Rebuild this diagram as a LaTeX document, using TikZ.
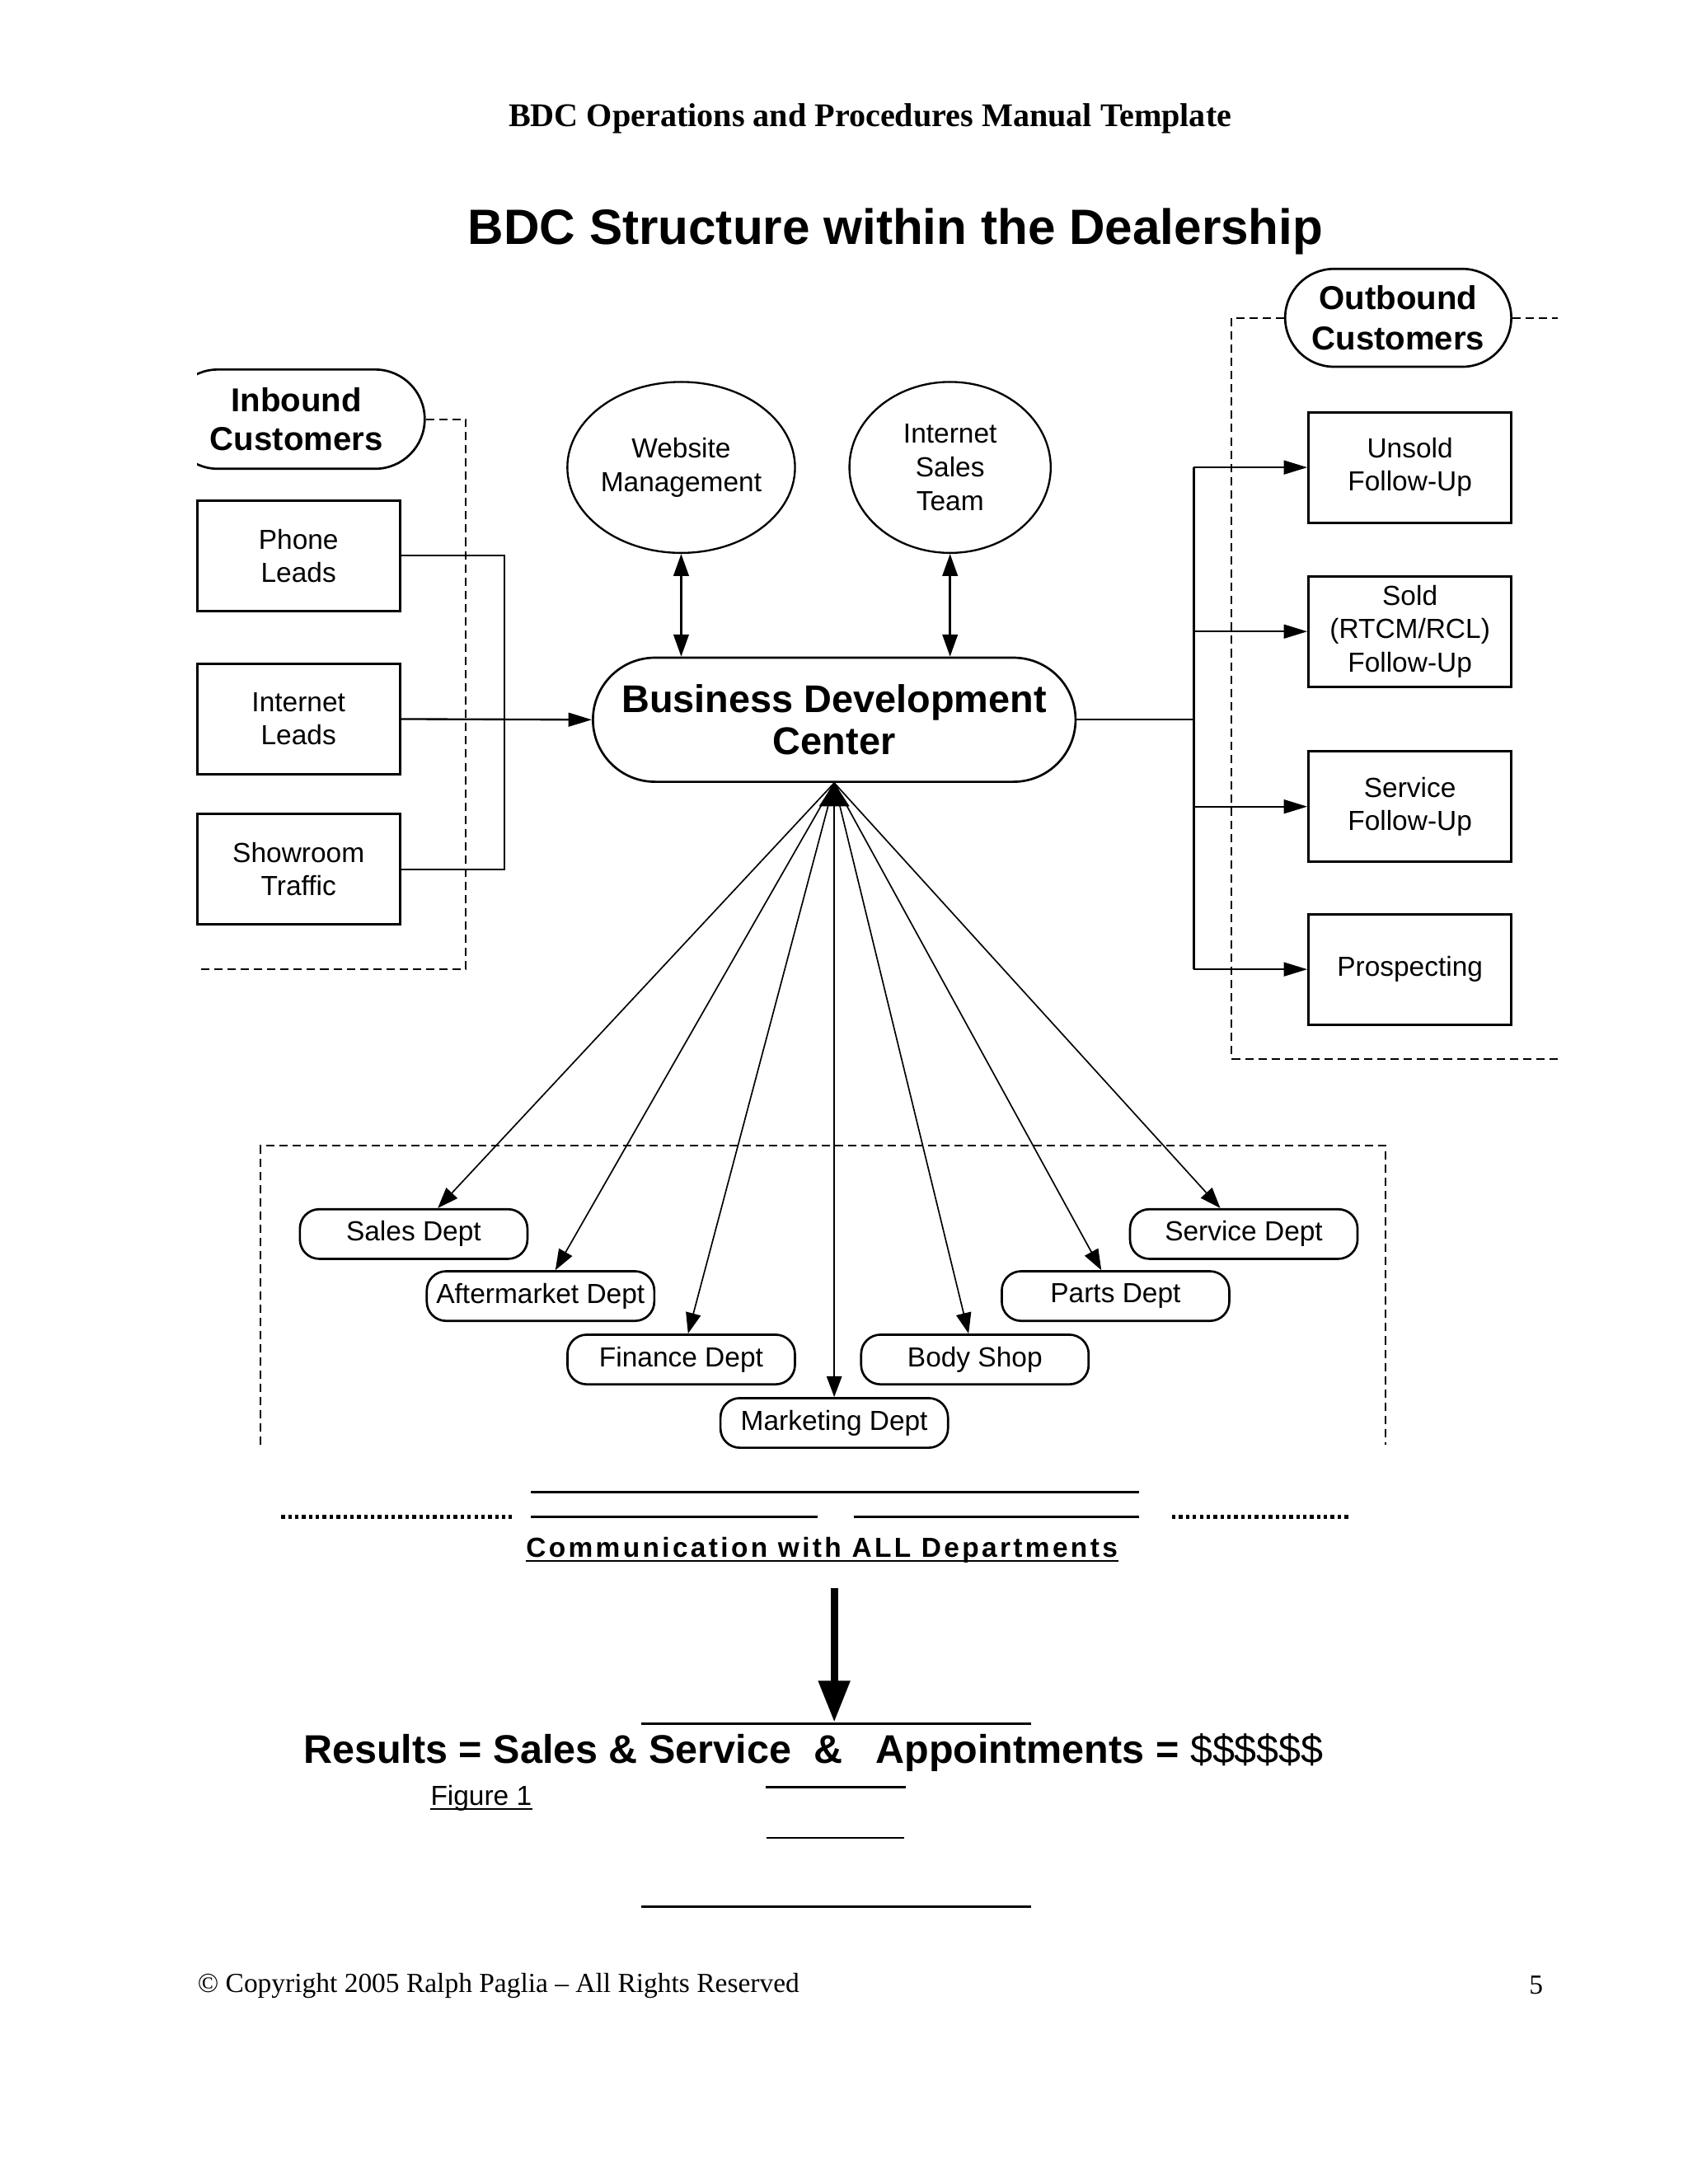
\documentclass[tikz,border=0pt]{standalone}
\usepackage{fontspec}
\setmainfont{Liberation Serif}
\setsansfont{Liberation Sans}
\usetikzlibrary{
    shapes.geometric,
    shapes.misc,
    arrows.meta,
    positioning,
    calc
}

\begin{document}
\begin{tikzpicture}[
        x=0.5pt, y=-0.5pt,
        box/.style={rectangle, draw, line width=0.9pt, minimum width=73.5pt, minimum height=40pt, align=center, font=\sffamily\fontsize{10}{12}\selectfont},
        bubble/.style={ellipse, draw, line width=0.7pt, minimum width=73pt, minimum height=62pt, inner sep=0pt, align=center, font=\sffamily\fontsize{10}{12.3}\selectfont},
        term/.style={rounded rectangle, draw, line width=0.8pt, inner sep=0pt, align=center, font=\sffamily\bfseries\fontsize{12}{14.2}\selectfont},
        dept/.style={rectangle, rounded corners=7pt, draw, line width=0.8pt, minimum width=82.5pt, minimum height=18pt, inner sep=0pt, font=\sffamily\fontsize{10}{12}\selectfont},
        line/.style={line width=0.7pt},
        arrow/.style={line width=0.7pt, -{Triangle[length=8.5pt, width=5pt]}},
        dblarrow/.style={line width=0.8pt, {Triangle[length=8pt, width=5.5pt]}-{Triangle[length=8pt, width=5.5pt]}},
        deptarrow/.style={line width=0.5pt, -{Triangle[length=7.5pt, width=5.5pt]}},
        frame/.style={line width=0.6pt, dash pattern=on 3pt off 1.8pt},
        rule/.style={line width=1pt},
        uline/.style={line width=0.6pt}
    ]
        \useasboundingbox (0,0) rectangle (1224,1584);

        % Headings
        \node[font=\rmfamily\bfseries\fontsize{12}{14}\selectfont] (header) at (631,86) {BDC Operations and Procedures Manual Template};
        \node[font=\sffamily\bfseries\fontsize{18}{20}\selectfont] (title) at (649.5,168) {BDC Structure within the Dealership};

        % Inbound side
        \begin{scope}
            \clip (143,250) rectangle (330,360);
            \node[term, minimum width=93pt, minimum height=36pt] (inbound) at (215,304) {Inbound\\Customers};
        \end{scope}
        \node[box] (phone) at (216.5,403) {Phone\\Leads};
        \node[box] (internet) at (216.5,521.5) {Internet\\Leads};
        \node[box] (showroom) at (216.5,630.5) {Showroom\\Traffic};
        \draw[frame] (inbound.east) -| (338,703) -- (143,703);

        % Center
        \node[bubble] (web) at (494,339) {Website\\Management};
        \node[bubble] (team) at (689,339) {Internet\\Sales\\Team};
        \node[term, minimum width=175pt, minimum height=45pt, font=\sffamily\bfseries\fontsize{14}{15.5}\selectfont] (bdc) at (605,522) {Business Development\\Center};

        % Outbound side
        \node[term, minimum width=82pt, minimum height=35.5pt, font=\sffamily\bfseries\fontsize{12}{14.5}\selectfont] (outbound) at (1014,230.5) {Outbound\\Customers};
        \node[box] (unsold) at (1022.5,339) {Unsold\\Follow-Up};
        \node[box] (sold) at (1022.5,458) {Sold\\(RTCM/RCL)\\Follow-Up};
        \node[box] (service) at (1022.5,585) {Service\\Follow-Up};
        \node[box] (prospect) at (1022.5,703) {Prospecting};
        \draw[frame] (outbound.west) -| (893,768) -- (1130,768);
        \draw[frame] (outbound.east) -- (1130,230.5);

        % Departments
        \node[dept] (sales) at (300,895) {Sales Dept};
        \node[dept] (aftermarket) at (392,940) {Aftermarket Dept};
        \node[dept] (finance) at (494,986) {Finance Dept};
        \node[dept] (marketing) at (605,1032) {Marketing Dept};
        \node[dept] (body) at (707,986) {Body Shop};
        \node[dept] (parts) at (809,940) {Parts Dept};
        \node[dept] (servicedept) at (902,895) {Service Dept};
        \draw[frame] (189,1048) |- (1005,831) -- (1005,1048);

        % Arrows
        \draw[line] (phone.east) -- ++(75,0) |- (showroom.east);
        \draw[arrow] (internet.east) -- (bdc.west);
        \draw[dblarrow] (web.south) -- (web.south |- bdc.north);
        \draw[dblarrow] (team.south) -- (team.south |- bdc.north);
        \draw[line] (bdc.east) -- ++(85,0) coordinate (split);
        \draw[line] (split |- unsold.west) -- (split |- prospect.west);
        \foreach \n in {unsold, sold, service, prospect}
            \draw[arrow] (split |- \n.west) -- (\n.west);
        \foreach \n in {sales, aftermarket, finance, body, parts, servicedept}
            \draw[deptarrow] (bdc.south) -- (\n);
        \draw[deptarrow, {Triangle[length=8.5pt, width=11pt]}-{Triangle[length=7.5pt, width=5.5pt]}] (bdc.south) -- (marketing);

        % Rules below
        \draw[rule] (385,1082) -- (826,1082);
        \draw[rule] (385,1100) -- (593,1100);
        \draw[rule] (619,1100) -- (826,1100);
        \draw[line width=1.4pt, dash pattern=on 1.3pt off 1.2pt] (204,1100) -- (371,1100);
        \draw[line width=1.4pt, dash pattern=on 1.3pt off 1.2pt] (850,1100) -- (978,1100);

        \node[inner sep=0pt, font=\sffamily\bfseries\fontsize{10}{12}\selectfont\addfontfeature{LetterSpace=10}] (comm) at (596,1124) {Communication with ALL Departments};
        \draw[uline] ([yshift=-1.6pt]comm.base west) -- ([yshift=-1.6pt]comm.base east);

        % Results
        \coordinate (tip) at (605,1249);
        \draw[line width=2.6pt, -{Triangle[length=15pt, width=11pt]}] ([yshift=-9pt]comm.south -| tip) -- (tip);
        \draw[line width=0.8pt] (465,1250) -- (748,1250);
        \node[font=\sffamily\bfseries\fontsize{14.5}{16}\selectfont] (results) at (590,1271) {Results = Sales \& Service\ \ \&\ \ \ Appointments = {\mdseries\$\$\$\$\$\$}};
        \draw[line width=0.8pt] (555,1296) -- (657,1296);
        \node[inner sep=0pt, font=\sffamily\fontsize{10}{12}\selectfont] (figure) at (349,1304) {Figure 1\ };
        \draw[uline] ([yshift=-1.5pt]figure.base west) -- ([yshift=-1.5pt]figure.base east);
        \draw[line width=0.5pt] (556,1333) -- (656,1333);
        \draw[line width=0.8pt] (465,1383) -- (748,1383);

        % Footer
        \node[anchor=west, inner sep=0pt, font=\rmfamily\fontsize{10}{12}\selectfont] (copy) at (143,1440) {\textcopyright{} Copyright 2005 Ralph Paglia -- All Rights Reserved};
        \node[inner sep=0pt, font=\rmfamily\fontsize{10}{12}\selectfont] (page) at (1114,1440) {5};
    \end{tikzpicture}
\end{document}
